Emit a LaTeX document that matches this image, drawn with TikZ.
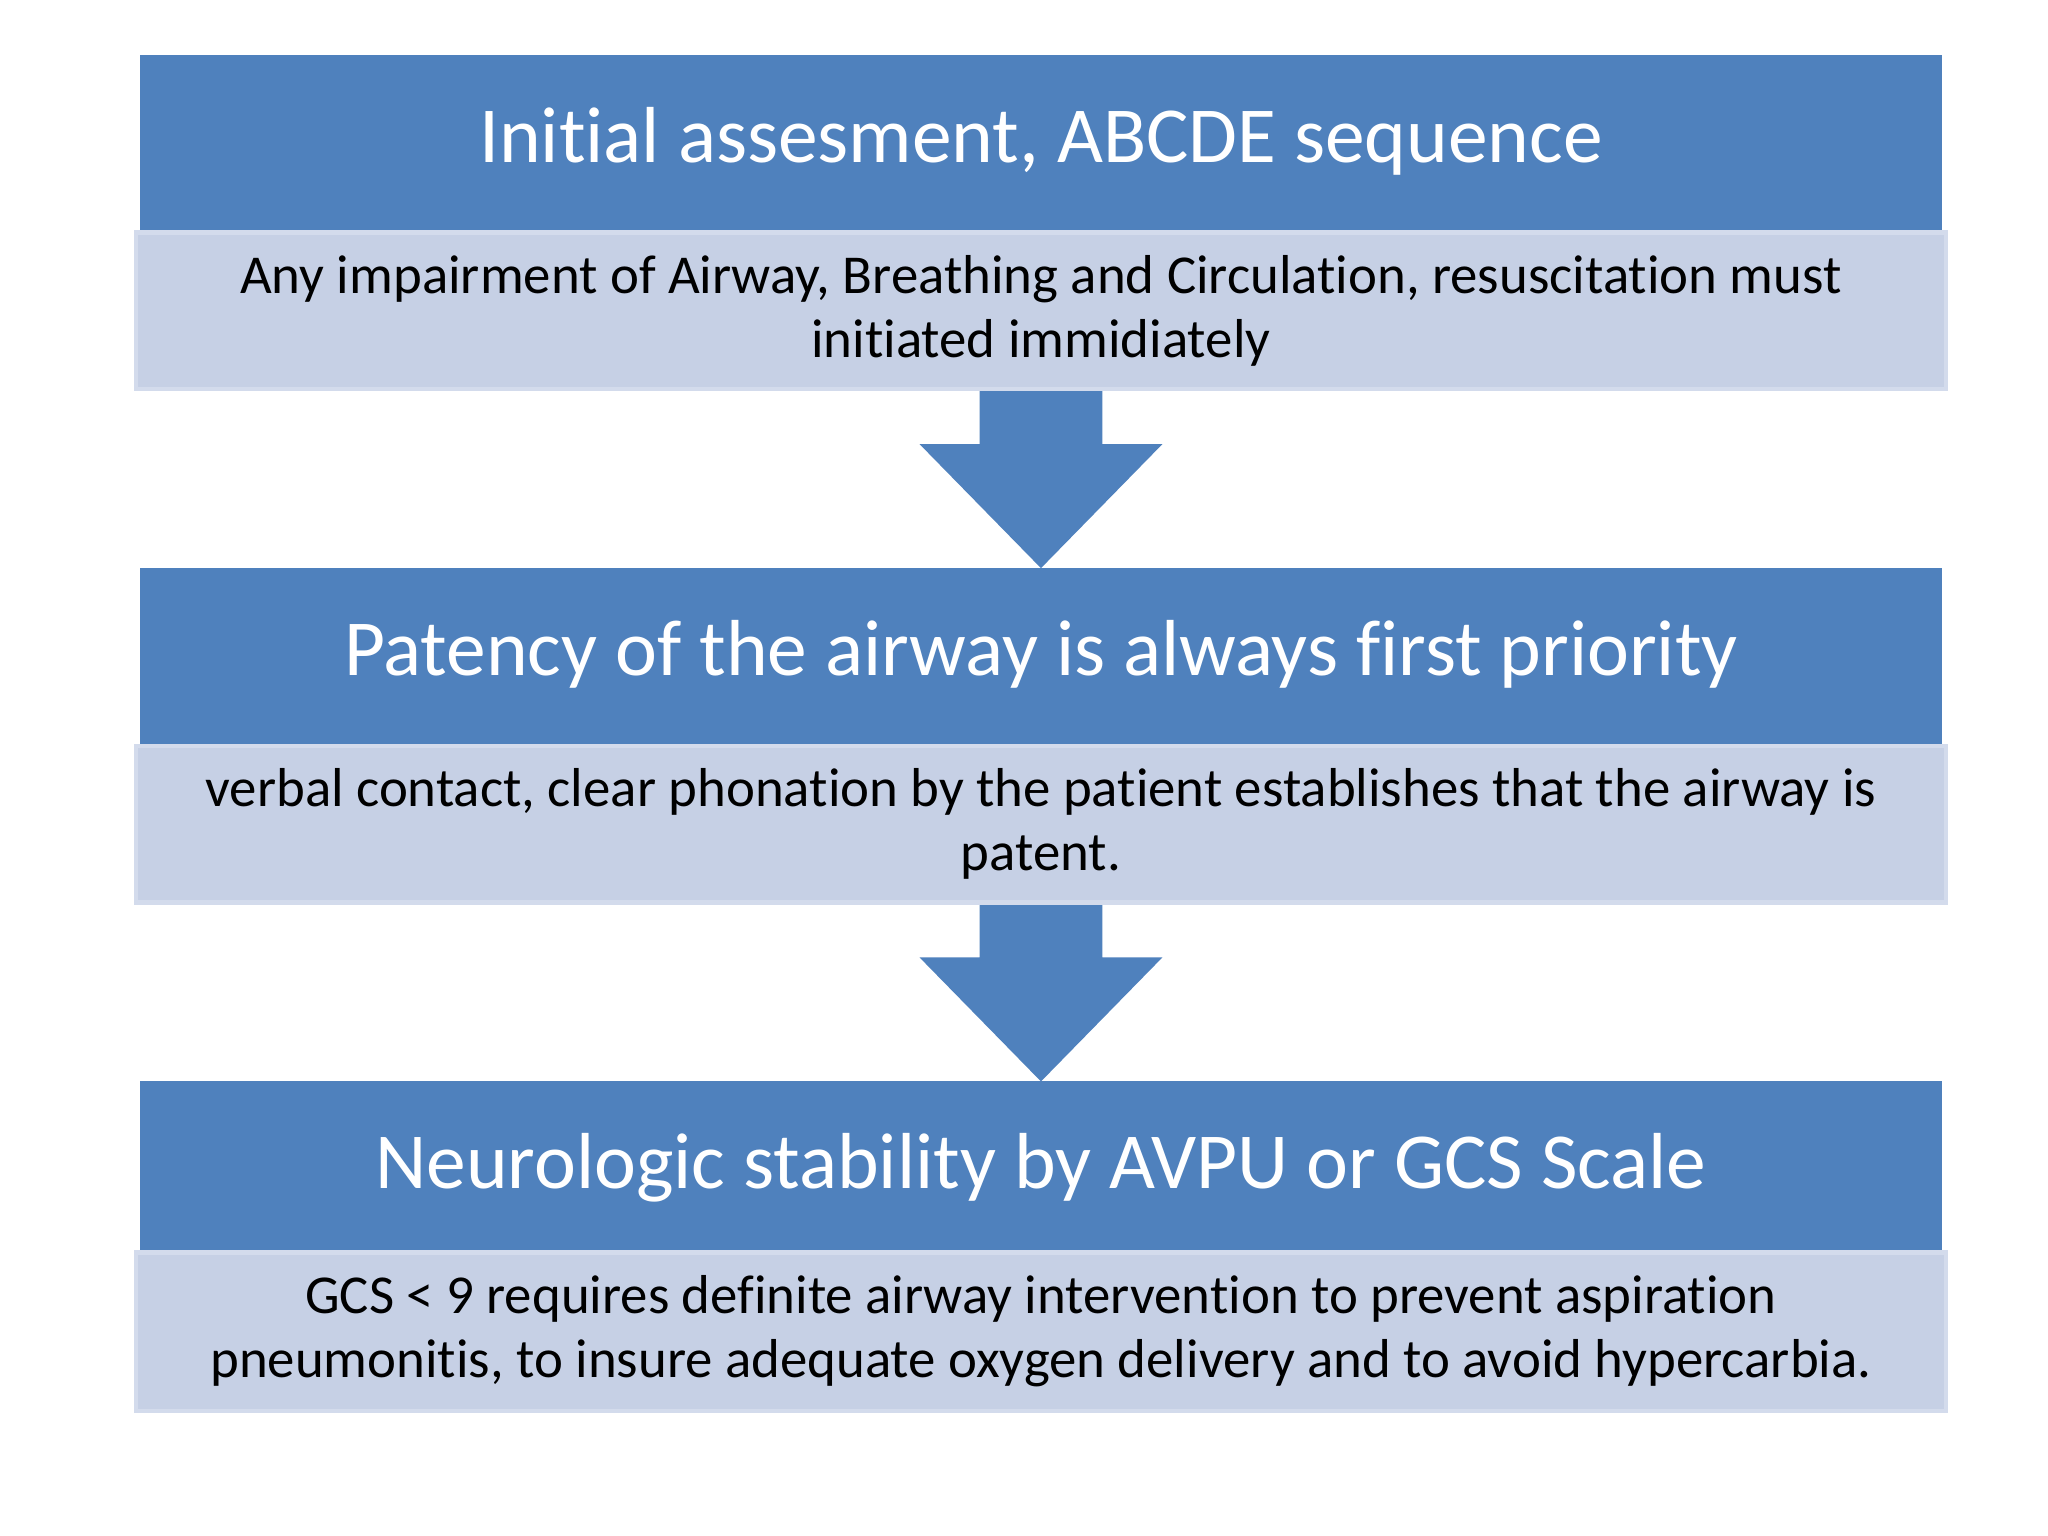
\documentclass[tikz,border=0pt]{standalone}
\usepackage{fontspec}
\setmainfont[Ligatures=NoCommon]{Carlito}
\begin{document}
\begin{tikzpicture}[x=0.01306cm,y=-0.01306cm,
 head/.style={fill=hdr,draw=none},
 sub/.style={fill=subc,draw=subb,line width=1.2pt},
 htext/.style={font=\fontsize{22.6}{27}\selectfont,text=white},
 btext/.style={font=\fontsize{15.6}{18.2}\selectfont,text=black,align=center},
 arr/.style={fill=hdr,draw=none}]
\definecolor{hdr}{HTML}{4F81BD}
\definecolor{subc}{HTML}{C6D0E5}
\definecolor{subb}{HTML}{D3DBEC}
\useasboundingbox (0,0) rectangle (1568,1176);
\fill[white] (0,0) rectangle (1568,1176);
% arrows
\fill[arr] (750,299) -- (844,299) -- (844,340) -- (890,340) -- (797,435) -- (704,340) -- (750,340) -- cycle;
\fill[arr] (750,692) -- (844,692) -- (844,733) -- (890,733) -- (797,828) -- (704,733) -- (750,733) -- cycle;
% box 1
\path[head] (107,42) rectangle (1487,177);
\node[htext] (h1) at (797,108) {Initial assesment, ABCDE sequence};
\path[sub] (104,178) rectangle (1490,298);
\node[btext] (b1) at (797,238) {Any impairment of Airway, Breathing and Circulation, resuscitation must\\initiated immidiately};
% box 2
\path[head] (107,435) rectangle (1487,570);
\node[htext] (h2) at (797,501) {Patency of the airway is always first priority};
\path[sub] (104,571) rectangle (1490,691);
\node[btext] (b2) at (797,631) {verbal contact, clear phonation by the patient establishes that the airway is\\patent.};
% box 3
\path[head] (107,828) rectangle (1487,958);
\node[htext] (h3) at (797,894) {Neurologic stability by AVPU or GCS Scale};
\path[sub] (104,959) rectangle (1490,1080);
\node[btext] (b3) at (797,1019) {GCS < 9 requires definite airway intervention to prevent aspiration\\pneumonitis, to insure adequate oxygen delivery and to avoid hypercarbia.};
\end{tikzpicture}
\end{document}
